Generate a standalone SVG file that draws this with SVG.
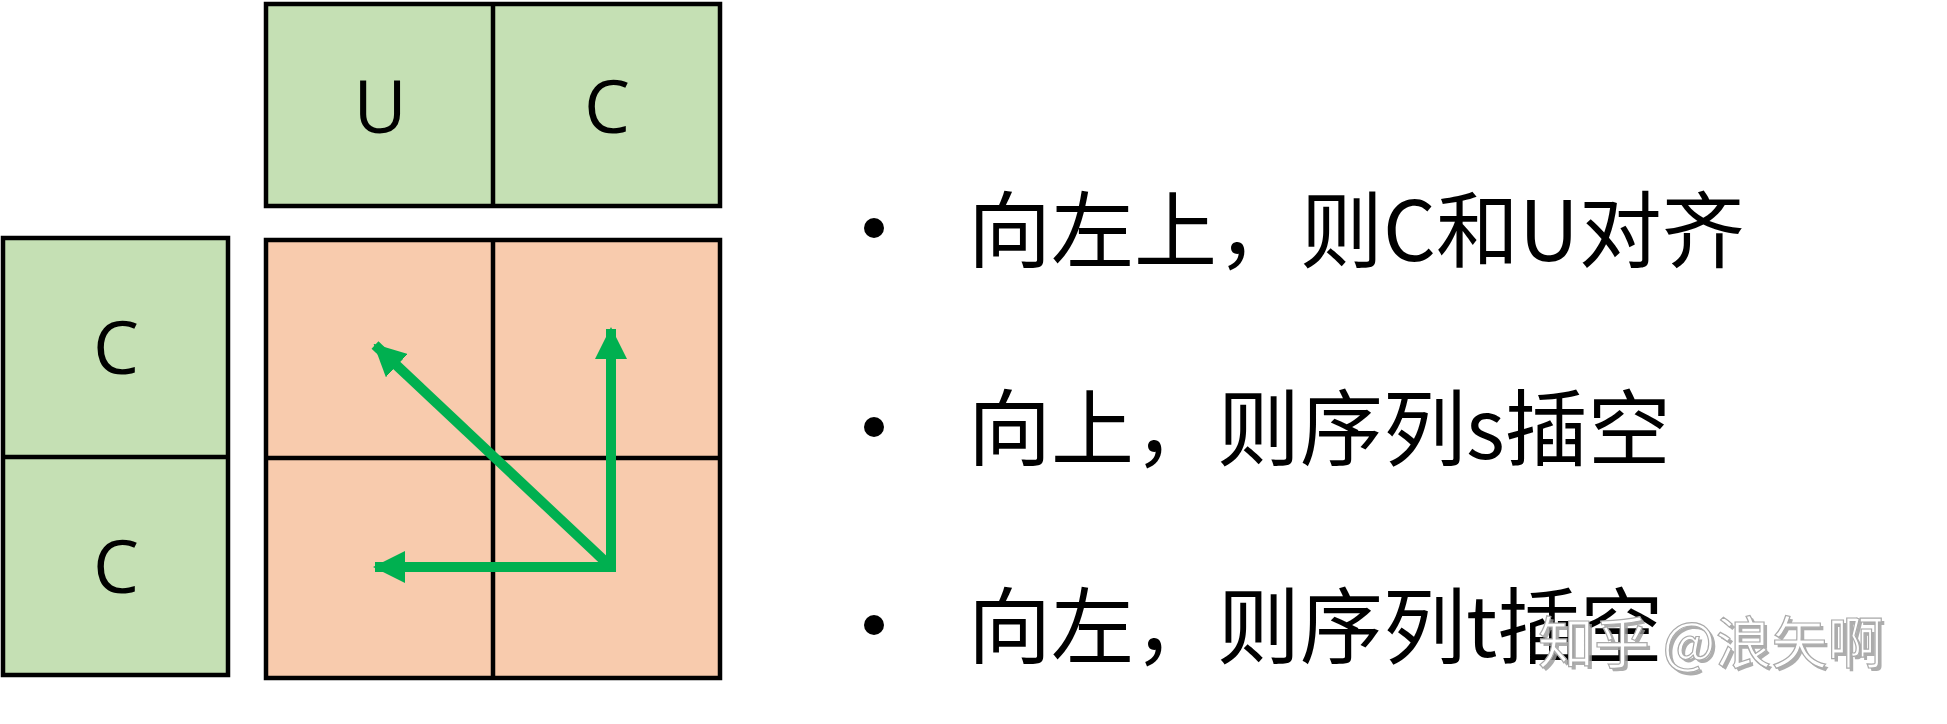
<svg xmlns="http://www.w3.org/2000/svg" width="1947" height="724" viewBox="0 0 1947 724">
<style>
.g{fill:#C5E0B4;stroke:#000;stroke-width:4.5}
.o{fill:#F8CBAD;stroke:#000;stroke-width:4.5}
.ln{stroke:#000;stroke-width:4.5}
.lt{font-family:"Open Sans","Noto Sans",sans-serif;font-size:73px;fill:#000;text-anchor:middle}
.t{font-family:"Noto Sans CJK SC","Noto Sans",sans-serif;font-size:83px;font-weight:400;fill:#000}
.arr{stroke:#00B050;stroke-width:10;fill:none;stroke-linecap:butt}
.wm{font-family:"Noto Sans CJK SC",sans-serif;font-size:56px}
</style>
<defs>
<marker id="ah" viewBox="0 0 32 32" refX="30" refY="16" markerWidth="32" markerHeight="32" markerUnits="userSpaceOnUse" orient="auto">
<path d="M0,0 L32,16 L0,32 Z" fill="#00B050"/>
</marker>
</defs>
<rect width="1947" height="724" fill="#fff"/>
<g id="top-row">
<rect class="g" x="266" y="4" width="454" height="202"/>
<line class="ln" x1="493" y1="4" x2="493" y2="206"/>
<text class="lt" x="380" y="133">U</text>
<text class="lt" x="607" y="133">C</text>
</g>
<g id="left-col">
<rect class="g" x="3" y="238" width="225" height="437"/>
<line class="ln" x1="3" y1="457" x2="228" y2="457"/>
<text class="lt" x="116" y="374">C</text>
<text class="lt" x="116" y="593">C</text>
</g>
<g id="grid">
<rect class="o" x="266" y="240" width="454" height="438"/>
<line class="ln" x1="493" y1="240" x2="493" y2="678"/>
<line class="ln" x1="266" y1="458" x2="720" y2="458"/>
</g>
<g id="connectors">
<line class="arr" x1="611" y1="572" x2="611" y2="329" marker-end="url(#ah)"/>
<line class="arr" x1="616" y1="567" x2="375" y2="567" marker-end="url(#ah)"/>
<line class="arr" x1="611" y1="567" x2="375" y2="345" marker-end="url(#ah)"/>
</g>
<g id="bullets">
<circle cx="874" cy="228" r="10" fill="#000"/>
<circle cx="874" cy="427" r="10" fill="#000"/>
<circle cx="874" cy="625" r="10" fill="#000"/>
<text class="t" x="968" y="261">向左上，则C和U对齐</text>
<text class="t" x="968" y="459">向上，则序列s插空</text>
<text class="t" x="968" y="657">向左，则序列t插空</text>
</g>
<g id="watermark">
<text class="wm" x="1541" y="666" fill="#999" opacity="0.8">知乎 @浪矢啊</text>
<text class="wm" x="1538" y="663" fill="#fff" stroke="#aaa" stroke-width="1.2">知乎 @浪矢啊</text>
</g>
</svg>
